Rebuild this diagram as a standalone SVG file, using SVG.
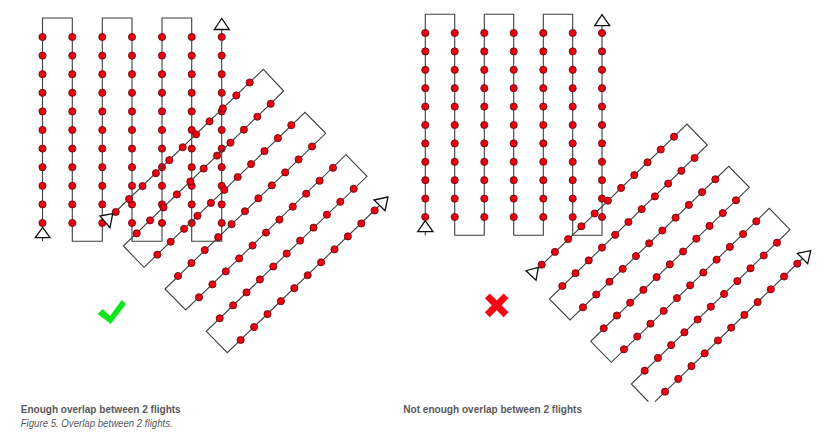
<svg xmlns="http://www.w3.org/2000/svg" width="830" height="447" viewBox="0 0 830 447">
<style>
.route{fill:none;stroke:#3f3f3f;stroke-width:1.1;stroke-linejoin:miter}
.dot{fill:#ea0010;stroke:#5a0a0c;stroke-width:.8}
.tri{fill:#fff;stroke:#111;stroke-width:1.3;stroke-linejoin:miter}
text{font-family:"Liberation Sans",Arial,sans-serif;fill:#58595b;font-size:10.6px}
.b{font-weight:bold}
.i{font-style:italic}
</style>
<defs>
<g id="colL" class="dot"><circle cy="0" r="3.6"/><circle cy="18.6" r="3.6"/><circle cy="37.2" r="3.6"/><circle cy="55.8" r="3.6"/><circle cy="74.4" r="3.6"/><circle cy="93" r="3.6"/><circle cy="111.6" r="3.6"/><circle cy="130.2" r="3.6"/><circle cy="148.8" r="3.6"/><circle cy="167.4" r="3.6"/><circle cy="186" r="3.6"/></g>
<g id="colR" class="dot"><circle cy="0" r="3.6"/><circle cy="18.4" r="3.6"/><circle cy="36.8" r="3.6"/><circle cy="55.2" r="3.6"/><circle cy="73.6" r="3.6"/><circle cy="92" r="3.6"/><circle cy="110.4" r="3.6"/><circle cy="128.8" r="3.6"/><circle cy="147.2" r="3.6"/><circle cy="165.6" r="3.6"/><circle cy="184" r="3.6"/></g>
<g id="diaL" class="dot"><circle r="3.6"/><circle cx="13.4" cy="-12.95" r="3.6"/><circle cx="26.8" cy="-25.9" r="3.6"/><circle cx="40.2" cy="-38.85" r="3.6"/><circle cx="53.6" cy="-51.8" r="3.6"/><circle cx="67" cy="-64.75" r="3.6"/><circle cx="80.4" cy="-77.7" r="3.6"/><circle cx="93.8" cy="-90.65" r="3.6"/><circle cx="107.2" cy="-103.6" r="3.6"/><circle cx="120.6" cy="-116.55" r="3.6"/><circle cx="134" cy="-129.5" r="3.6"/></g>
<g id="diaR" class="dot"><circle r="3.6"/><circle cx="13.23" cy="-12.8" r="3.6"/><circle cx="26.46" cy="-25.6" r="3.6"/><circle cx="39.69" cy="-38.4" r="3.6"/><circle cx="52.92" cy="-51.2" r="3.6"/><circle cx="66.15" cy="-64" r="3.6"/><circle cx="79.38" cy="-76.8" r="3.6"/><circle cx="92.61" cy="-89.6" r="3.6"/><circle cx="105.84" cy="-102.4" r="3.6"/><circle cx="119.07" cy="-115.2" r="3.6"/><circle cx="132.3" cy="-128" r="3.6"/></g>
</defs>
<rect width="830" height="447" fill="#fff"/>

<g id="flight-left-1">
<path class="route" d="M42.5 241V18H72.3V241.3H102.3V18H132V241.3H162V18H191.7V241.3H221.7V18.5"/>
<use href="#colL" x="42.5" y="37"/><use href="#colL" x="72.3" y="37"/><use href="#colL" x="102.3" y="37"/><use href="#colL" x="132" y="37"/><use href="#colL" x="162" y="37"/><use href="#colL" x="191.7" y="37"/><use href="#colL" x="221.7" y="37"/>
<polygon class="tri" points="221.7,18.5 214.3,29.5 229.3,29.5"/>
<polygon class="tri" points="42.7,227.3 35.3,237.7 50,237.7"/>
</g>
<g id="flight-left-2">
<path class="route" d="M105 222L263.3 69.3L283.7 91L123.3 246L144 267.3L305 112.3L325.7 133.3L165 289L185.7 310L346 154.7L367 176.3L206.3 331.3L227.3 352.7L381 204"/>
<use href="#diaL" x="115.7" y="212"/><use href="#diaL" x="136.7" y="233.3"/><use href="#diaL" x="157.3" y="254.7"/><use href="#diaL" x="178" y="276"/><use href="#diaL" x="199" y="297.3"/><use href="#diaL" x="219.7" y="318.3"/><use href="#diaL" x="240.7" y="340"/>
<polygon class="tri" points="112.7,213.7 100,216 110,227.7"/>
<polygon class="tri" points="388,197 374,200 385,210.7"/>
</g>
<g id="flight-right-1">
<path class="route" d="M425.3 235.3V14.3H454.7V235.3H484.3V14.3H513.7V235.3H543.3V14.3H572.7V235.3H602V14.7"/>
<use href="#colR" x="425.3" y="33"/><use href="#colR" x="454.7" y="33"/><use href="#colR" x="484.3" y="33"/><use href="#colR" x="513.7" y="33"/><use href="#colR" x="543.3" y="33"/><use href="#colR" x="572.7" y="33"/><use href="#colR" x="602" y="33"/>
<polygon class="tri" points="602,14.7 594.7,25.7 609.7,25.7"/>
<polygon class="tri" points="425.3,220.7 417.7,231.7 433,231.7"/>
</g>
<g id="flight-right-2">
<path class="route" d="M531 275.5L687 124L707.3 145L549.3 299L570 320L728.7 166.3L749.3 187.3L590.7 341.3L611.3 362.3L769.3 208.3L790 229.7L631.3 384L648.3 401.5M655 401.7L803 258"/>
<use href="#diaR" x="541.7" y="264.7"/><use href="#diaR" x="562.3" y="286"/><use href="#diaR" x="583" y="307.3"/><use href="#diaR" x="603.7" y="328.3"/><use href="#diaR" x="624" y="349.3"/><use href="#diaR" x="644.7" y="370.7"/><use href="#diaR" x="665" y="391.7"/>
<polygon class="tri" points="538.3,267.3 526,270.7 536,280.3"/>
<polygon class="tri" points="810.7,250.7 797.3,253.3 807.7,263.7"/>
</g>
<g id="check">
<polygon points="97.7,314 102.7,309 110,316 121.7,300 126,304 110.7,324" fill="#0be61e"/>
</g>
<g id="cross">
<path d="M487.3 295.9L506.1 314.7M506.1 295.9L487.3 314.7" stroke="#f00a14" stroke-width="7" fill="none"/>
</g>
<g id="labels">
<text class="b" x="20.7" y="412.7" textLength="160" lengthAdjust="spacingAndGlyphs">Enough overlap between 2 flights</text>
<text class="i" x="20.7" y="426.7" textLength="152" lengthAdjust="spacingAndGlyphs">Figure 5. Overlap between 2 flights.</text>
<text class="b" x="403.3" y="412.7" textLength="178.7" lengthAdjust="spacingAndGlyphs">Not enough overlap between 2 flights</text>
</g>
</svg>
